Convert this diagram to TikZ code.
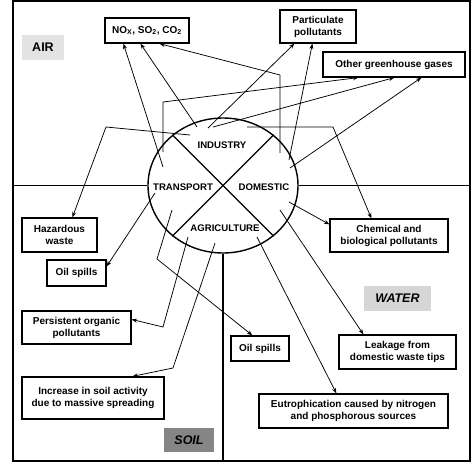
\documentclass[tikz,border=0pt]{standalone}
\usepackage{fontspec}
\setmainfont{Liberation Sans}
\usetikzlibrary{arrows.meta,shapes.geometric}
\newcommand\bxfont{\fontsize{10}{12}\selectfont\bfseries}
\newcommand\lbfont{\fontsize{9.6}{11}\selectfont\bfseries}
\newcommand\tgfont{\fontsize{12.5}{14}\selectfont\bfseries}
\begin{document}
\begin{tikzpicture}[x=1pt,y=-1pt,
  box/.style={draw,line width=1.2pt,inner sep=1pt,align=center,font=\bxfont},
  lab/.style={inner sep=0pt,font=\lbfont},
  tagbox/.style={inner sep=0pt,font=\tgfont},
  conn/.style={line width=0.75pt,-{Stealth[length=5.5pt,width=4pt]}},
  divider/.style={line width=1.2pt}]
\useasboundingbox (0,0) rectangle (474,474);
% frame and central ellipse
\node[draw,line width=1.5pt,minimum width=457pt,minimum height=460pt,inner sep=0pt] (frame) at (241.5,231) {};
\node[draw,ellipse,line width=1.4pt,minimum width=150pt,minimum height=135pt,inner sep=0pt] (ell) at (223,185.5) {};
\draw[divider] (ell.135) -- (ell.315);
\draw[divider] (ell.45) -- (ell.225);
\draw[divider] (frame.west |- ell.west) -- (ell.west);
\draw[divider] (ell.east) -- (frame.east |- ell.east);
\draw[divider] (ell.south) -- (ell.south |- frame.south);
% sector labels
\node[lab] (ind) at (222,145) {INDUSTRY};
\node[lab] (tra) at (183,187) {TRANSPORT};
\node[lab] (dom) at (264,187) {DOMESTIC};
\node[lab] (agr) at (225,228) {AGRICULTURE};
% compartment tags
\node[tagbox,fill=gray!22,minimum width=42pt,minimum height=25pt] (air) at (43,47.5) {AIR};
\node[tagbox,fill=gray!32,minimum width=67pt,minimum height=25pt,font=\tgfont\itshape] (water) at (397.5,298.5) {WATER};
\node[tagbox,fill=black!48,minimum width=50pt,minimum height=24pt,font=\tgfont\itshape] (soil) at (189,440) {SOIL};
% boxes
\node[box,minimum width=84pt,minimum height=25pt] (nox) at (147,30.5) {NO\textsubscript{X}, SO\textsubscript{2}, CO\textsubscript{2}};
\node[box,minimum width=76pt,minimum height=33pt] (part) at (318,26.5) {Particulate\\pollutants};
\node[box,minimum width=142pt,minimum height=25pt] (ogg) at (394,64.5) {Other greenhouse gases};
\node[box,minimum width=75pt,minimum height=34pt] (haz) at (59.5,235) {Hazardous\\waste};
\node[box,minimum width=59pt,minimum height=26pt] (oila) at (76.5,273) {Oil spills};
\node[box,minimum width=109pt,minimum height=33pt] (pop) at (76.5,327.5) {Persistent organic\\pollutants};
\node[box,minimum width=142pt,minimum height=42pt] (inc) at (93,398) {Increase in soil activity\\due to massive spreading};
\node[box,minimum width=118pt,minimum height=33pt] (chem) at (389,235.5) {Chemical and\\biological pollutants};
\node[box,minimum width=58pt,minimum height=25pt] (oilb) at (260,348.5) {Oil spills};
\node[box,minimum width=117pt,minimum height=34pt] (leak) at (397.5,352) {Leakage from\\domestic waste tips};
\node[box,minimum width=189pt,minimum height=34pt] (eut) at (353.5,411) {Eutrophication caused by nitrogen\\and phosphorous sources};
% connector sources and bends
\coordinate (s1) at (163,167);
\coordinate (s2) at (197,127);
\coordinate (s3) at (280,153);  \coordinate (b3) at (280,75);
\coordinate (s4) at (208,128);
\coordinate (s5) at (289,160);
\coordinate (s6) at (163,152);  \coordinate (b6) at (163,102);
\coordinate (s7) at (213,127);
\coordinate (s8) at (290,168);
\coordinate (s9) at (247,127);  \coordinate (b9) at (333,127);
\coordinate (s10) at (190,135); \coordinate (b10) at (106,127);
\coordinate (s11) at (155,193);
\coordinate (s12) at (289,202);
\coordinate (s13) at (172,210); \coordinate (b13) at (157,259);
\coordinate (s14) at (188,237); \coordinate (b14) at (163,327);
\coordinate (s15) at (215,243); \coordinate (b15) at (173,368);
\coordinate (s16) at (257,237);
\coordinate (s17) at (280,210);
% connectors
\draw[conn] (s1) -- ([xshift=19pt]nox.south west);
\draw[conn] (s2) -- ([xshift=36pt]nox.south west);
\draw[conn] (s3) -- (b3) -- ([xshift=55pt]nox.south west);
\draw[conn] (s4) -- ([xshift=15pt]part.south west);
\draw[conn] (s5) -- ([xshift=33pt]part.south west);
\draw[conn] (s6) -- (b6) -- ([xshift=36pt]ogg.south west);
\draw[conn] (s7) -- ([xshift=72pt]ogg.south west);
\draw[conn] (s8) -- ([xshift=99pt]ogg.south west);
\draw[conn] (s9) -- (b9) -- ([xshift=42pt]chem.north west);
\draw[conn] (s10) -- (b10) -- ([xshift=51pt]haz.north west);
\draw[conn] (s11) -- ([yshift=-7pt]oila.north east);
\draw[conn] (s12) -- ([yshift=-6pt]chem.north west);
\draw[conn] (s13) -- (b13) -- ([xshift=22pt]oilb.north west);
\draw[conn] (s14) -- (b14) -- ([yshift=-9pt]pop.north east);
\draw[conn] (s15) -- (b15) -- ([xshift=111pt]inc.north west);
\draw[conn] (s16) -- ([xshift=78pt]eut.north west);
\draw[conn] (s17) -- ([xshift=25pt]leak.north west);
\end{tikzpicture}
\end{document}
